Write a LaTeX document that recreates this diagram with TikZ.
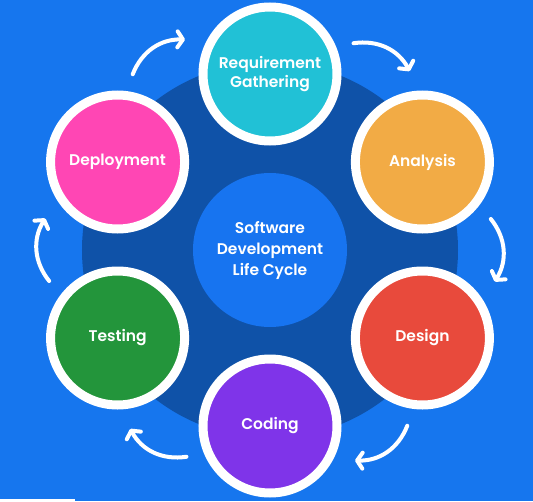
\documentclass[tikz,border=0pt]{standalone}
\usepackage{fontspec}
\setmainfont{Poppins}[BoldFont={* SemiBold}]
\usetikzlibrary{arrows.meta}

\definecolor{bgblue}{HTML}{1676EE}
\definecolor{ringblue}{HTML}{0F52A8}
\definecolor{hubblue}{HTML}{1774F0}
\definecolor{reqteal}{HTML}{21C1D6}
\definecolor{anaorange}{HTML}{F2AB45}
\definecolor{desred}{HTML}{E84A3C}
\definecolor{codpurple}{HTML}{7F34E9}
\definecolor{tesgreen}{HTML}{23953B}
\definecolor{deppink}{HTML}{FF46B4}

\begin{document}
\begin{tikzpicture}[x=1pt, y=1pt,
  label text/.style={text=white, align=center, font=\bfseries\fontsize{15.5}{18.5}\selectfont},
  phase/.style={circle, draw=white, line width=9pt, minimum size=134pt, inner sep=0pt, label text},
  cyclearrow/.style={white, line width=4pt, line cap=round, -{Straight Barb[length=5.5pt, width=16pt, round]}}]
  % Background
  \fill[bgblue] (-270,-251) rectangle (263,250);
  \useasboundingbox (-270,-251) rectangle (263,250);
  \fill[white] (-270,-251) rectangle (-195,-248.5);

  % Dark ring
  \fill[ringblue] (0,0) circle[radius=188];

  % Hub
  \node[circle, fill=hubblue, minimum size=154pt, inner sep=0pt, label text,
    font=\bfseries\fontsize{15.5}{21}\selectfont] (hub) at (0,0)
    {Software\\Development\\Life Cycle};

  % Phases
  \node[phase, fill=reqteal]   (req) at (90:176)   {Requirement\\Gathering};
  \node[phase, fill=anaorange] (ana) at (30:176)   {Analysis};
  \node[phase, fill=desred]    (des) at (-30:176)  {Design};
  \node[phase, fill=codpurple] (cod) at (-90:176)  {Coding};
  \node[phase, fill=tesgreen]  (tes) at (-150:176) {Testing};
  \node[phase, fill=deppink]   (dep) at (150:176)  {Deployment};

  % Arrows between the phases
  \foreach \a [evaluate=\a as \s using \a+8, evaluate=\a as \e using \a-8] in {60,0,-60,-120,180,120} {
    \coordinate (from\a) at (\s:223);
    \coordinate (to\a) at (\e:227);
    \draw[cyclearrow] (from\a) to[bend left=35] (to\a);
  }
\end{tikzpicture}
\end{document}
